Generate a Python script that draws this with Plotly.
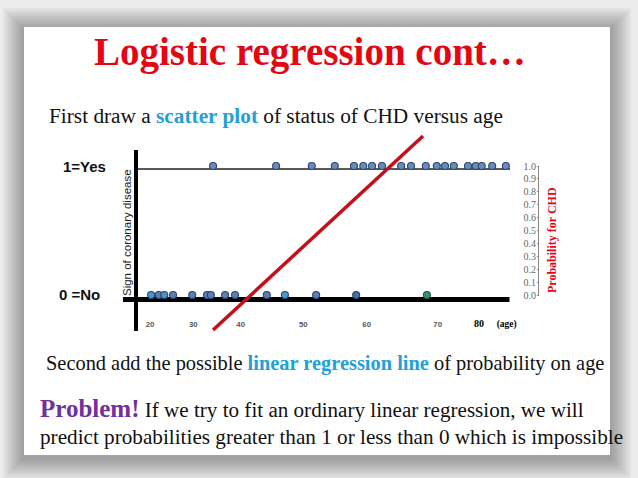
import plotly.graph_objects as go

W, H = 638, 478

# ---------------- data ----------------
# age values on the drawn (linear) scale of the slide
age_yes = [31.5, 43.0, 49.5, 53.7, 57.2, 58.9, 60.5, 62.3, 65.8, 67.6,
           70.3, 72.3, 73.8, 75.4, 78.0, 79.4, 80.5, 82.4, 84.9]
chd_yes = [1] * len(age_yes)
age_no = [20.2, 21.6, 22.6, 24.2, 27.7, 30.4, 31.1, 33.7, 35.5, 41.3,
          44.6, 50.3, 57.6, 70.5]
chd_no = [0] * len(age_no)
no_colors = ["#3f9ccb", "#5a7fb0", "#4a95c4", "#5a7fb0", "#5a7fb0", "#5a7fb0",
             "#5a7fb0", "#5a7fb0", "#5a7fb0", "#5a7fb0", "#3f9ccb", "#5a7fb0",
             "#3f6ea8", "#2e9a5a"]
line_age = [31.5, 69.8]
line_prob = [-0.271, 1.233]

x_tickvals = [20, 27.9, 36.54, 47.96, 59.52, 72.47, 80.0, 85.05]
x_ticktext = ["20", "30", "40", "50", "60", "70",
              "<span style='font-family:Liberation Serif;font-size:10px;color:#000'><b>80</b></span>",
              "<span style='font-family:Liberation Serif;font-size:9.5px;color:#000'><b>(age)</b></span>"]
prob_ticks = [0.0, 0.1, 0.2, 0.3, 0.4, 0.5, 0.6, 0.7, 0.8, 0.9, 1.0]
prob_ticktext = ["0.0", "0.1", "0.2", "0.3", "0.4", "0.5", "0.6", "0.7", "0.8", "0.9", "1.0"]


# ---------------- helpers ----------------
def px(x):
    return x / W


def py(y):
    return 1 - y / H


def u(xp):  # pixel x -> drawn age scale
    return 20 + (xp - 150) / 5.4833


def v(yp):  # pixel y -> probability
    return (295 - yp) / 129


fig = go.Figure()

fig.add_trace(go.Scatter(
    x=age_no, y=chd_no, mode="markers",
    marker=dict(size=7, color=no_colors, line=dict(color="#2a4570", width=1.1)),
    showlegend=False, hoverinfo="skip"))
fig.add_trace(go.Scatter(
    x=age_yes, y=chd_yes, mode="markers",
    marker=dict(size=7, color="#6a8cb8", line=dict(color="#2a4570", width=1.1)),
    showlegend=False, hoverinfo="skip"))
fig.add_trace(go.Scatter(
    x=line_age, y=line_prob, mode="lines",
    line=dict(color="#c4101a", width=3.5),
    showlegend=False, hoverinfo="skip"))

shapes = []
# slide shadow + slide
for k in range(8, 0, -1):
    e = k * 2.6
    shapes.append(dict(type="rect", xref="paper", yref="paper", layer="below",
                       x0=px(24 - e), x1=px(610 + e), y0=py(27 - e + 2), y1=py(455 + e + 3),
                       fillcolor="rgba(0,0,0,0.045)", line=dict(width=0)))
shapes.append(dict(type="rect", xref="paper", yref="paper", layer="below",
                   x0=px(24), x1=px(610), y0=py(27), y1=py(455),
                   fillcolor="white", line=dict(width=0)))
# chart frame lines
shapes.append(dict(type="line", xref="x", yref="paper", layer="below",
                   x0=u(136), x1=u(136), y0=py(150), y1=py(331),
                   line=dict(color="black", width=4)))
shapes.append(dict(type="line", xref="x", yref="y", layer="below",
                   x0=u(138), x1=u(510), y0=v(169), y1=v(169),
                   line=dict(color="#222", width=1.5)))
shapes.append(dict(type="line", xref="x", yref="y", layer="below",
                   x0=u(123), x1=u(509.5), y0=v(299.5), y1=v(299.5),
                   line=dict(color="black", width=5)))
# right probability axis line
shapes.append(dict(type="line", xref="paper", yref="y", layer="below",
                   x0=px(538.5), x1=px(538.5), y0=0, y1=1,
                   line=dict(color="#888", width=1)))

serif = "Liberation Serif"
annotations = [
    dict(text="<b>Logistic regression cont…</b>", x=px(310), y=py(52),
         font=dict(family=serif, size=39, color="#e30613")),
    dict(text="First draw a <b><span style='color:#22a0d8'>scatter plot</span></b> of status of CHD versus age",
         x=px(47), y=py(116), xanchor="left", font=dict(family=serif, size=21.3, color="#111")),
    dict(text="Second add the possible <b><span style='color:#22a0d8'>linear regression line</span></b> of probability on age",
         x=px(44), y=py(363), xanchor="left", font=dict(family=serif, size=20.4, color="#111")),
    dict(text="<span style='font-size:25px;color:#7030a0'><b>Problem!</b></span> If we try to fit an ordinary linear regression, we will",
         x=px(38), y=py(408), xanchor="left", font=dict(family=serif, size=21.1, color="#111")),
    dict(text="predict probabilities greater than 1 or less than 0 which is impossible",
         x=px(38), y=py(437), xanchor="left", font=dict(family=serif, size=21.2, color="#111")),
    dict(text="<b>1=Yes</b>", x=px(61), y=py(166), xanchor="left",
         font=dict(family="Liberation Sans", size=15, color="#111")),
    dict(text="<b>0 =No</b>", x=px(57), y=py(294), xanchor="left",
         font=dict(family="Liberation Sans", size=15, color="#111")),
    dict(text="Sign of coronary disease", x=px(119), y=py(233), textangle=-90,
         font=dict(family="Liberation Sans", size=11.5, color="#222")),
    dict(text="<b>Probability for CHD</b>", x=px(561), y=py(240), textangle=-90,
         font=dict(family=serif, size=12, color="#e30613")),
]
for a in annotations:
    a.setdefault("xref", "paper")
    a.setdefault("yref", "paper")
    a.setdefault("showarrow", False)
    a.setdefault("yanchor", "middle")

fig.update_layout(
    width=W, height=H, margin=dict(l=0, r=0, t=0, b=0),
    paper_bgcolor="#ececec", plot_bgcolor="rgba(0,0,0,0)",
    shapes=shapes, annotations=annotations,
    xaxis=dict(domain=[px(100), px(539)], range=[u(100), u(539)],
               showgrid=False, zeroline=False, showline=False, ticks="",
               tickvals=x_tickvals, ticktext=x_ticktext,
               tickfont=dict(family="Liberation Sans", size=7.8, color="#555", weight="bold"),
               ticklabelstandoff=-17, fixedrange=True),
    yaxis=dict(domain=[py(335), py(134)], range=[v(335), v(134)], side="right",
               showgrid=False, zeroline=False, showline=False,
               ticks="inside", ticklen=2, tickcolor="#888",
               ticklabelposition="inside",
               tickvals=prob_ticks, ticktext=prob_ticktext,
               tickfont=dict(family=serif, size=10, color="#666"), fixedrange=True),
)

fig.write_html("out.html", config={"displayModeBar": False},
               post_script="document.body.style.margin='0';document.body.style.overflow='hidden';")
